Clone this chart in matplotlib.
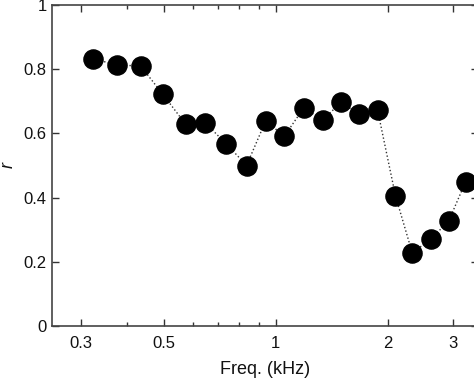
import matplotlib.pyplot as plt
from matplotlib.ticker import FixedLocator, FixedFormatter, NullFormatter

plt.rcParams['font.family'] = ['Liberation Sans', 'DejaVu Sans']

freq = [0.324, 0.376, 0.434, 0.497, 0.573, 0.648, 0.738, 0.836, 0.94, 1.057,
        1.19, 1.34, 1.50, 1.68, 1.88, 2.10, 2.33, 2.61, 2.92, 3.24]
r = [0.832, 0.813, 0.81, 0.723, 0.629, 0.632, 0.567, 0.50, 0.638, 0.592,
     0.679, 0.642, 0.697, 0.659, 0.673, 0.406, 0.228, 0.27, 0.327, 0.449]

xticks = [0.3, 0.5, 1, 2, 3]
xticklabels = ['0.3', '0.5', '1', '2', '3']
xminor = [0.4, 0.6, 0.7, 0.8, 0.9]
yticks = [0, 0.2, 0.4, 0.6, 0.8, 1]
yticklabels = ['0', '0.2', '0.4', '0.6', '0.8', '1']

fig = plt.figure(figsize=(4.74, 3.79), dpi=100)
ax = fig.add_axes([51.5 / 474, 53 / 379, 426.5 / 474, 321 / 379])

ax.plot(freq, r, linestyle=':', color='#333333', linewidth=1.0,
        marker='o', markersize=13.8, markerfacecolor='black',
        markeredgecolor='black', clip_on=False)

ax.set_xscale('log')
ax.set_xlim(0.25, 3.5)
ax.set_ylim(0, 1)
ax.xaxis.set_major_locator(FixedLocator(xticks))
ax.xaxis.set_major_formatter(FixedFormatter(xticklabels))
ax.xaxis.set_minor_locator(FixedLocator(xminor))
ax.xaxis.set_minor_formatter(NullFormatter())
ax.set_yticks(yticks)
ax.set_yticklabels(yticklabels)

ax.tick_params(which='both', direction='in', top=True, right=True,
               colors='#333333', labelcolor='#111111', labelsize=12)
ax.tick_params(which='major', length=5, width=1)
ax.tick_params(which='minor', length=3, width=1)
ax.tick_params(axis='x', pad=7)
for s in ax.spines.values():
    s.set_color('#444444')
    s.set_linewidth(1.2)

ax.set_xlabel('Freq. (kHz)', fontsize=13, color='#111111')
ax.xaxis.set_label_coords(0.5, -0.11)
ax.set_ylabel('r', fontsize=13, style='italic', color='#111111')
ax.yaxis.set_label_coords(-0.082, 0.5)

fig.savefig('out.png', dpi=100)
